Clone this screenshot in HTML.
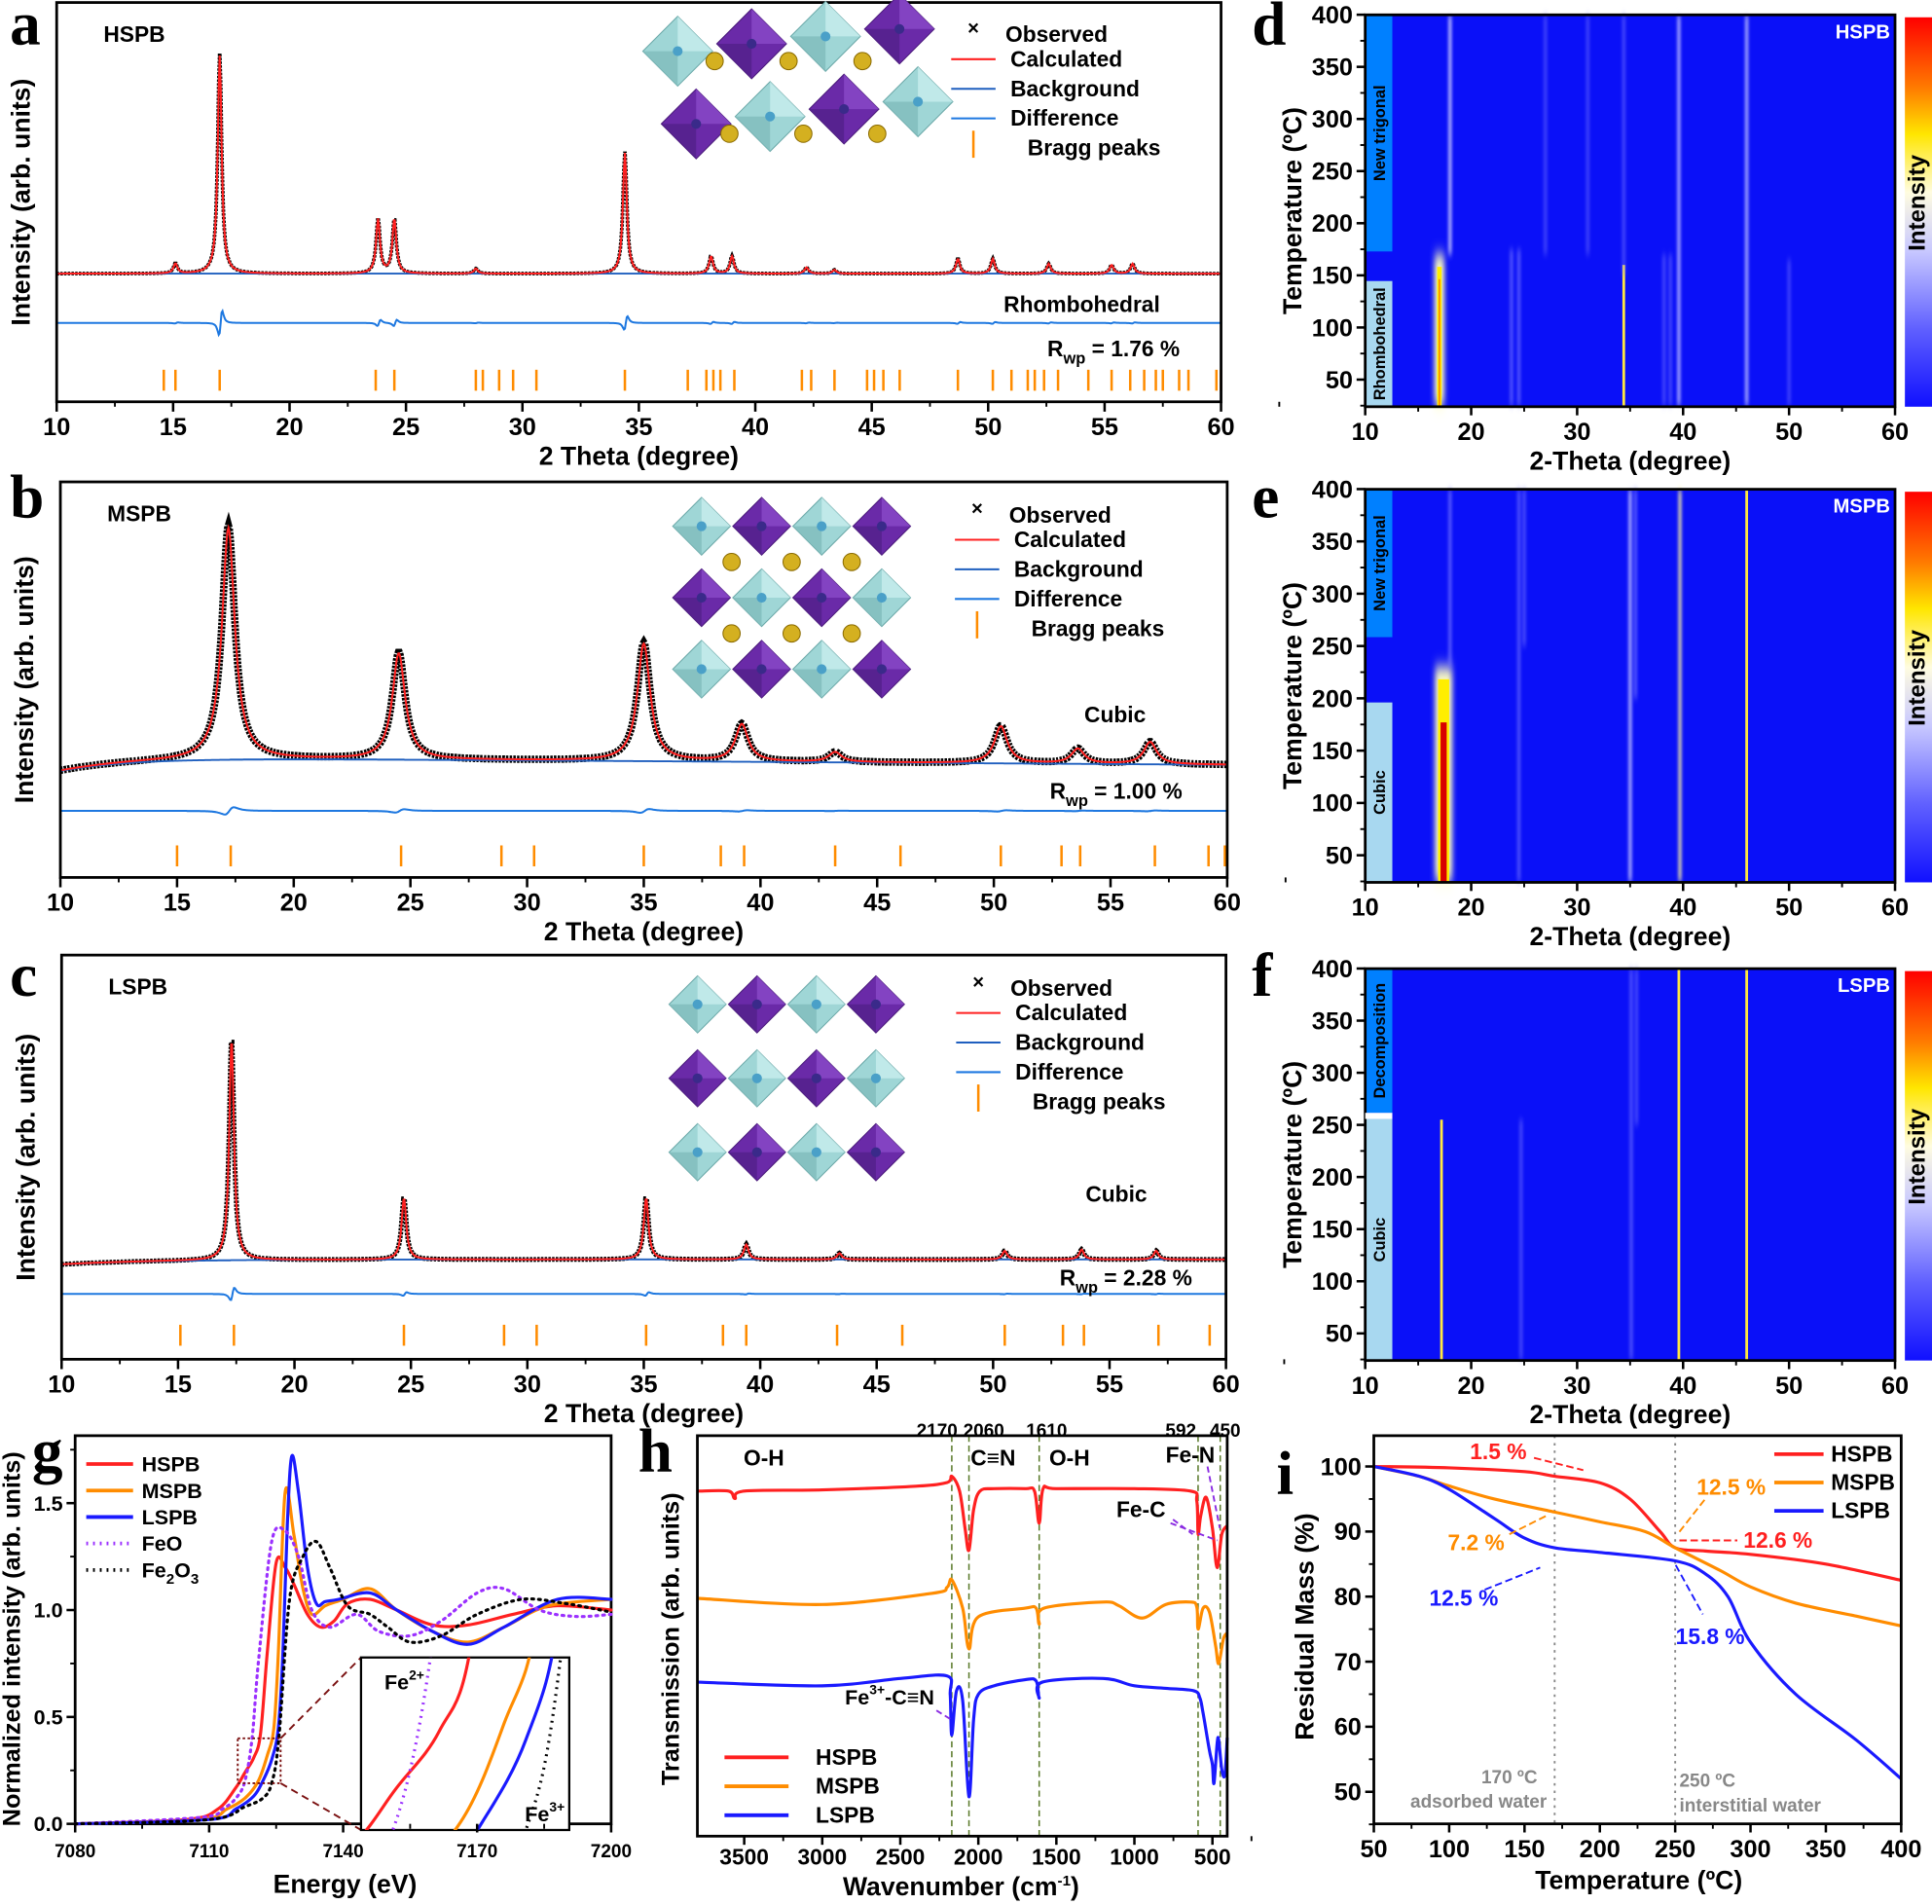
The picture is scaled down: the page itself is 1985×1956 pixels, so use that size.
<!DOCTYPE html>
<html><head><meta charset="utf-8"><style>
html,body{margin:0;padding:0;background:#fff}
svg{display:block;font-family:"Liberation Sans",Arial,sans-serif;font-weight:bold}
</style></head><body>
<svg id="fig" xmlns="http://www.w3.org/2000/svg" width="1985" height="1956" viewBox="0 0 1568 1545">
<defs>
<linearGradient id="cbar" x1="0" y1="0" x2="0" y2="1">
<stop offset="0" stop-color="#ff0000"/><stop offset="0.18" stop-color="#ff7a00"/><stop offset="0.3" stop-color="#ffe600"/><stop offset="0.45" stop-color="#fffce0"/><stop offset="0.6" stop-color="#c8c8ff"/><stop offset="0.8" stop-color="#6060ff"/><stop offset="1" stop-color="#1010ff"/>
</linearGradient>
<filter id="blur1" x="-2" y="-0.1" width="5" height="1.2"><feGaussianBlur stdDeviation="1.2 3"/></filter>
<filter id="blur2" x="-3" y="-0.2" width="7" height="1.4"><feGaussianBlur stdDeviation="2 6"/></filter>
<clipPath id="insClip"><rect x="293" y="1345" width="169" height="140"/></clipPath>
</defs>
</svg>
<script>
// ---------- DATA ----------
// Panel a (HSPB XRD)
const aPeakPos=[15.1,17.0,23.8,24.5,28.0,34.4,38.1,39.0,42.2,43.4,48.7,50.2,52.6,55.3,56.2];
const aPeakH=[8,177,44,44,4,98,14,14,5,3,12,12,8,7,8];
const aBragg=[14.6,15.1,17.0,23.7,24.5,28.0,28.3,29.0,29.6,30.6,34.4,37.1,37.9,38.2,38.5,39.1,42.0,42.4,43.4,44.8,45.1,45.5,46.2,48.7,50.2,51.0,51.7,52.0,52.4,53.0,54.3,55.3,56.1,56.7,57.2,57.5,58.2,58.6,59.8,60.0];
// Panel b (MSPB XRD)
const bPeakPos=[17.2,24.5,35.0,39.2,43.2,50.3,53.6,56.7];
const bPeakH=[188,86,95,30,8,30,12,18];
const bBragg=[15.0,17.3,24.6,28.9,30.3,35.0,38.3,39.3,43.2,46.0,50.3,52.9,53.7,56.9,59.2,59.9];
// Panel c (LSPB XRD)
const cPeakPos=[17.3,24.7,35.1,39.4,43.4,50.5,53.8,57.0];
const cPeakH=[180,50,50,12,5,7,8,7];
const cBragg=[15.1,17.4,24.7,29.0,30.4,35.1,38.4,39.4,43.3,46.1,50.5,53.0,53.9,57.1,59.3];
const xrdTicks=[10,15,20,25,30,35,40,45,50,55,60];
// Heatmaps d,e,f : line position (deg), start T, end T, intensity (0..1)
const dLinePos=[17.0,18.0,23.8,24.5,34.4,34.4,39.6,46.0,27.0,31.0,38.2,38.8,50.0];
const dLineT0=[25,170,25,25,25,150,25,25,170,170,25,25,25];
const dLineT1=[170,400,175,175,160,400,400,400,400,400,170,170,165];
const dLineI=[0.96,0.55,0.35,0.35,0.85,0.2,0.45,0.45,0.15,0.15,0.2,0.2,0.15];
const eLinePos=[17.4,18.0,24.5,35.0,39.7,46.0,35.5,25.0];
const eLineT0=[25,230,25,25,25,25,200,250];
const eLineT1=[230,400,400,400,400,400,400,400];
const eLineI=[1.0,0.4,0.3,0.5,0.75,0.85,0.35,0.25];
const fLinePos=[17.2,24.7,35.1,39.6,46.0,35.6];
const fLineT0=[25,25,25,25,25,250];
const fLineT1=[255,255,400,400,400,400];
const fLineI=[0.82,0.2,0.3,0.85,0.9,0.2];
const hmXTicks=[10,20,30,40,50,60];
const hmYTicks=[50,100,150,200,250,300,350,400];
// Panel g (XANES)
const gHSPB_E=[7080,7105,7112,7116,7118,7120,7121.5,7123,7125,7127,7129,7132,7135,7138,7141,7146,7152,7160,7168,7178,7188,7200];
const gHSPB_I=[0,0.02,0.07,0.17,0.24,0.31,0.42,0.8,1.22,1.2,1.12,0.98,0.92,0.95,1.03,1.05,1.0,0.93,0.93,0.98,1.02,1.0];
const gMSPB_E=[7080,7108,7114,7118,7121,7123,7124.5,7125.5,7127,7129,7131,7133,7136,7140,7146,7152,7160,7168,7176,7186,7200];
const gMSPB_I=[0,0.02,0.07,0.12,0.2,0.32,0.45,0.8,1.55,1.35,1.1,0.98,1.02,1.05,1.1,1.0,0.9,0.85,0.92,1.02,1.05];
const gLSPB_E=[7080,7110,7116,7120,7122,7124,7125.5,7126.5,7127.5,7128.5,7130,7132,7134,7136,7139,7146,7152,7160,7168,7176,7188,7200];
const gLSPB_I=[0,0.02,0.07,0.13,0.2,0.3,0.45,0.8,1.4,1.72,1.55,1.2,1.03,1.04,1.05,1.08,1.0,0.9,0.84,0.92,1.05,1.05];
const gFeO_E=[7080,7108,7113,7116,7118,7119.6,7121,7124,7127,7130,7133,7137,7143,7148,7155,7162,7170,7176,7184,7192,7200];
const gFeO_I=[0,0.03,0.07,0.12,0.2,0.4,0.75,1.32,1.37,1.25,1.0,0.92,0.98,0.9,0.88,0.95,1.08,1.1,1.0,0.97,0.98];
const gFe2O3_E=[7080,7110,7118,7122,7124,7125.6,7128,7131,7134,7137,7141,7146,7150,7155,7162,7170,7180,7190,7200];
const gFe2O3_I=[0,0.02,0.08,0.12,0.19,0.4,1.05,1.25,1.32,1.2,1.02,0.98,0.92,0.85,0.88,0.98,1.05,1.03,0.99];
const gXTicks=[7080,7110,7140,7170,7200];
const gYTicks=[0,0.5,1.0,1.5];
// Panel h (FTIR)
const hHSPB_W=[3797,3600,3560,3500,3000,2400,2200,2170,2120,2085,2060,2030,1990,1900,1700,1640,1610,1585,1500,1000,640,600,592,575,540,500,470,440,405];
const hHSPB_T=[1210,1210,1216,1210,1209,1206,1203,1198,1210,1240,1258,1225,1210,1208,1208,1210,1236,1208,1208,1208,1210,1218,1245,1230,1215,1240,1272,1245,1238];
const hMSPB_W=[3797,3000,2300,2200,2170,2100,2060,2000,1700,1630,1610,1580,1200,1100,950,800,640,600,592,560,520,480,460,430,405];
const hMSPB_T=[1297,1302,1293,1288,1282,1305,1338,1312,1305,1305,1318,1305,1300,1303,1313,1302,1300,1304,1322,1305,1308,1335,1350,1330,1325];
const hLSPB_W=[3797,3000,2500,2200,2180,2170,2140,2100,2060,2030,2000,1900,1700,1630,1610,1590,1200,1000,800,620,580,560,520,500,490,470,460,440,420,405];
const hLSPB_T=[1365,1368,1362,1360,1375,1408,1372,1380,1458,1395,1375,1368,1363,1364,1378,1365,1362,1368,1370,1372,1378,1390,1420,1432,1447,1415,1412,1436,1440,1410];
const hXTicks=[3500,3000,2500,2000,1500,1000,500];
const hMarks=[2170,2060,1610,592,450];
// Panel i (TGA)
const iHSPB_T=[50,100,150,170,200,220,240,250,270,300,350,400];
const iHSPB_M=[100,99.8,99.2,98.5,97.5,95,90,87.5,87,86.5,85,82.5];
const iMSPB_T=[50,80,100,130,170,200,230,250,280,300,330,370,400];
const iMSPB_M=[100,98.5,97,95,93,91.5,90,87.5,84,81.5,79,77,75.5];
const iLSPB_T=[50,80,100,130,150,170,200,250,270,285,300,330,370,400];
const iLSPB_M=[100,98.5,96.5,92,89,87.5,86.8,85.5,83.5,80,73,65,58,52];
const iXTicks=[50,100,150,200,250,300,350,400];
const iYTicks=[50,60,70,80,90,100];

// ---------- HELPERS ----------
const NS="http://www.w3.org/2000/svg";
const svg=document.getElementById('fig');
function mk(tag,a,p){const e=document.createElementNS(NS,tag);for(const k in a)e.setAttribute(k,a[k]);(p||svg).appendChild(e);return e;}
function T(x,y,s,size,o){o=o||{};const e=mk('text',Object.assign({x:x,y:y,'font-size':size,'text-anchor':o.anchor||'middle',fill:o.fill||'#000'},o.extra||{}),o.parent);e.innerHTML=s;return e;}
function smooth(pts){if(pts.length<2)return '';let d='M'+pts[0][0].toFixed(1)+','+pts[0][1].toFixed(1);for(let i=0;i<pts.length-1;i++){const p0=pts[i-1]||pts[i],p1=pts[i],p2=pts[i+1],p3=pts[i+2]||p2;const c1x=p1[0]+(p2[0]-p0[0])/6,c1y=p1[1]+(p2[1]-p0[1])/6,c2x=p2[0]-(p3[0]-p1[0])/6,c2y=p2[1]-(p3[1]-p1[1])/6;d+='C'+c1x.toFixed(1)+','+c1y.toFixed(1)+' '+c2x.toFixed(1)+','+c2y.toFixed(1)+' '+p2[0].toFixed(1)+','+p2[1].toFixed(1);}return d;}
function poly(pts){return 'M'+pts.map(p=>p[0].toFixed(1)+','+p[1].toFixed(1)).join('L');}
function frame(x0,y0,x1,y1,name){const r=mk('rect',{x:x0,y:y0,width:x1-x0,height:y1-y0,fill:'none',stroke:'#000','stroke-width':2.2});return r;}
function letter(s,x,y){const e=T(x,y,s,50,{anchor:'start',extra:{'font-family':'Liberation Serif,serif'}});}

// ---------- XRD PANELS ----------
function xrd(cfg){
  const sx=t=>cfg.x0+(t-10)*(cfg.x1-cfg.x0)/50;
  const peaks=t=>{let s=0;for(let i=0;i<cfg.pos.length;i++){const u=(t-cfg.pos[i])/cfg.w;s+=cfg.h[i]/(1+u*u);}return s;};
  const base=t=>cfg.base(t);
  const g=mk('g',{});
  frame(cfg.x0,cfg.y0,cfg.x1,cfg.y1,cfg.name+'-frame');
  const obs=[],calc=[],bg=[],dif=[];
  for(let t=10;t<=60.001;t+=0.04){const x=sx(t);calc.push([x,base(t)-peaks(t)]);obs.push([x,base(t)-peaks(t)*1.01]);bg.push([x,base(t)]);dif.push([x,cfg.dy+cfg.ds*(peaks(t)-peaks(t-0.08))]);}
  let e=mk('path',{d:poly(obs),fill:'none',stroke:'#000','stroke-width':cfg.obsW,'stroke-dasharray':'2 1'},g);
  e=mk('path',{d:poly(bg),fill:'none',stroke:'#1f5fbf','stroke-width':1.5},g);
  e=mk('path',{d:poly(calc),fill:'none',stroke:'#ff2020','stroke-width':1.6},g);
  e=mk('path',{d:poly(dif),fill:'none',stroke:'#1e78e0','stroke-width':1.6},g);
  cfg.bragg.forEach(b=>{const l=mk('line',{x1:sx(b),x2:sx(b),y1:cfg.by,y2:cfg.by+17,stroke:'#ff8c00','stroke-width':2},g);});
  xrdTicks.forEach(t=>{mk('line',{x1:sx(t),x2:sx(t),y1:cfg.y1,y2:cfg.y1+8,stroke:'#000','stroke-width':2});mk('line',{x1:sx(t+2.5),x2:sx(t+2.5),y1:cfg.y1,y2:cfg.y1+4,stroke:'#000','stroke-width':1.5});
    const l=T(sx(t),cfg.y1+27,t,20);});
  let a=T((cfg.x0+cfg.x1)/2,cfg.y1+51,'2 Theta (degree)',21);
  a=T(0,0,'Intensity (arb. units)',21,{extra:{transform:'translate('+(cfg.x0-22)+','+((cfg.y0+cfg.y1)/2)+') rotate(-90)'}});
  a=T(cfg.x0+38,cfg.y0+32,cfg.name.toUpperCase(),18,{anchor:'start'});
  const lx=cfg.lx,ly=cfg.ly;
  a=T(lx,ly,'×',16);
  mk('line',{x1:lx-18,x2:lx+18,y1:ly+20,y2:ly+20,stroke:'#ff2020','stroke-width':1.6});
  mk('line',{x1:lx-18,x2:lx+18,y1:ly+44,y2:ly+44,stroke:'#1f5fbf','stroke-width':1.6});
  mk('line',{x1:lx-18,x2:lx+18,y1:ly+68,y2:ly+68,stroke:'#1e78e0','stroke-width':1.6});
  mk('line',{x1:lx,x2:lx,y1:ly+78,y2:ly+100,stroke:'#ff8c00','stroke-width':2});
  [['Observed',0,26],['Calculated',20,30],['Background',44,30],['Difference',68,30],['Bragg peaks',92,44]].forEach(r=>{const q=T(lx+r[2],ly+r[1]+6,r[0],18,{anchor:'start'});});
  if(cfg.phase){a=T(cfg.phase[0],cfg.phase[1],cfg.phase[2],18);}
  a=T(cfg.rwp[0],cfg.rwp[1],'R<tspan font-size="13" dy="6">wp</tspan><tspan dy="-6"> = '+cfg.rwp[2]+' %</tspan>',18,{anchor:'start'});
  crystal(cfg.cx,cfg.cy,cfg.cw,cfg.ch,cfg.ctype);
}
function crystal(x0,y0,w,h,type){
  const g=mk('g',{});
  const nx=4,ny=type==='a'?2:3;
  for(let j=0;j<ny;j++)for(let i=0;i<nx;i++){
    const cx=x0+(i+0.5)*w/nx+(type==='a'?j*15:0),cy=y0+(j+0.5)*h/ny-(type==='a'?i*6:0),r=Math.min(w/nx,h/ny)*0.48;
    const purple=(i+j)%2===1;
    const c1=purple?'#6a2aa8':'#9fd6d6',c2=purple?'#8a4ac8':'#c8eded',c3=purple?'#52208a':'#7fbcbc';
    mk('polygon',{points:[cx,cy-r,cx+r,cy,cx,cy+r,cx-r,cy].join(' '),fill:c1,stroke:purple?'#4a1a7a':'#6aa8a8','stroke-width':0.8},g);
    mk('polygon',{points:[cx,cy-r,cx+r,cy,cx,cy].join(' '),fill:c2,opacity:0.8},g);
    mk('polygon',{points:[cx,cy+r,cx-r,cy,cx,cy].join(' '),fill:c3,opacity:0.8},g);
    mk('circle',{cx:cx,cy:cy,r:4,fill:purple?'#3a2a8a':'#4aa0c8'},g);
  }
  if(type!=='c'){for(let j=0;j<ny-1+(type==='a'?1:0);j++)for(let i=0;i<nx-1;i++){const cx=x0+(i+1)*w/nx+(type==='a'?j*12:0),cy=y0+(j+(type==='a'?0.5:1))*h/ny+ (type==='a'?8:0);mk('circle',{cx:cx,cy:cy,r:7,fill:'#d4b020',stroke:'#8a6a00','stroke-width':0.8},g);}}
}
letter('a',8,36);letter('b',8,420);letter('c',8,808);
xrd({name:'hspb',x0:46,x1:991,y0:2,y1:326,pos:aPeakPos,h:aPeakH,w:0.1,bragg:aBragg,by:300,base:t=>222,dy:262,ds:0.12,obsW:3,lx:790,ly:28,rwp:[850,289,'1.76'],phase:[878,253,'Rhombohedral'],cx:520,cy:12,cw:240,ch:118,ctype:'a'});
xrd({name:'mspb',x0:49,x1:996,y0:391,y1:712,pos:bPeakPos,h:bPeakH,w:0.33,bragg:bBragg,by:686,base:t=>617+11*Math.exp(-(t-10)/3)+ (t-30)*0.12,dy:658,ds:0.1,obsW:6,lx:793,ly:418,rwp:[852,648,'1.00'],phase:[905,586,'Cubic'],cx:545,cy:398,cw:195,ch:174,ctype:'b'});
xrd({name:'lspb',x0:50,x1:995,y0:775,y1:1103,pos:cPeakPos,h:cPeakH,w:0.12,bragg:cBragg,by:1075,base:t=>1022+4*Math.exp(-(t-10)/4),dy:1050,ds:0.07,obsW:4,lx:794,ly:802,rwp:[860,1043,'2.28'],phase:[906,975,'Cubic'],cx:542,cy:785,cw:193,ch:180,ctype:'c'});

// ---------- HEATMAPS ----------
function heat(cfg){
  const x0=1108,x1=1538,y0=cfg.y0,y1=cfg.y1;
  const sx=t=>x0+(t-10)*(x1-x0)/50;
  const sy=T_=>cfg.y50-(T_-50)*cfg.k;
  const g=mk('g',{});
  mk('rect',{x:x0,y:y0,width:x1-x0,height:y1-y0,fill:'#0a10f8'},g);
  for(let i=0;i<cfg.pos.length;i++){
    const v=cfg.I[i];const col=v>0.8?'#ffe840':v>0.7?'#fff6a0':v>0.4?'#e0e0ff':'#8080ff';
    const ya=Math.max(y0,sy(cfg.T1[i])),yb=Math.min(y1,sy(cfg.T0[i]));
    const hot=v>0.95&&cfg.pos[i]<18;
    const x=sx(cfg.pos[i]);
    if(hot){
      const gl=mk('rect',{x:x-(cfg.name==='mspb'?7:4),y:ya,width:cfg.name==='mspb'?14:8,height:yb-ya,fill:'#ffffc0',filter:'url(#blur2)'},g);
      const r=mk('rect',{x:x-(cfg.name==='mspb'?4.5:1.8),y:ya+10,width:cfg.name==='mspb'?9:3.6,height:yb-ya-10,fill:'#ffee00'},g);
      const c=mk('rect',{x:x-(cfg.name==='mspb'?2.5:0.7),y:ya+(cfg.name==='mspb'?45:20),width:cfg.name==='mspb'?5:1.4,height:yb-ya-(cfg.name==='mspb'?45:20),fill:cfg.name==='mspb'?'#d80000':'#ff9000'},g);
    } else {
      const w=2.2;
      const r=mk('rect',{x:x-w/2,y:ya,width:w,height:yb-ya,fill:col,opacity:Math.min(1,0.4+v),filter:v<0.8?'url(#blur1)':''},g);
      
    }
  }
  cfg.bands.forEach(b=>{const r=mk('rect',{x:x0,y:b[0],width:22,height:b[1]-b[0],fill:b[2]},g);
    const t=T(0,0,b[3],13,{extra:{transform:'translate('+(x0+16)+','+((b[0]+b[1])/2)+') rotate(-90)'}});});
  frame(x0,y0,x1,y1,cfg.name+'-heatmap-frame');
  hmXTicks.forEach(t=>{mk('line',{x1:sx(t),x2:sx(t),y1:y1,y2:y1+7,stroke:'#000','stroke-width':2});if(t<60)mk('line',{x1:sx(t+5),x2:sx(t+5),y1:y1,y2:y1+4,stroke:'#000','stroke-width':1.5});const l=T(sx(t),y1+27,t,20);});
  hmYTicks.forEach(v=>{mk('line',{x1:x0-7,x2:x0,y1:sy(v),y2:sy(v),stroke:'#000','stroke-width':2});mk('line',{x1:x0-4,x2:x0,y1:sy(v-25),y2:sy(v-25),stroke:'#000','stroke-width':1.5});const l=T(x0-10,sy(v)+7,v,20,{anchor:'end'});});
  let a=T(1323,y1+51,'2-Theta (degree)',21);
  a=T(0,0,'Temperature (ºC)',21,{extra:{transform:'translate(1056,'+((y0+y1)/2)+') rotate(-90)'}});
  a=T(1534,y0+19,cfg.name.toUpperCase(),16,{anchor:'end',fill:'#fff'});
  const cb=mk('rect',{x:1546,y:y0+2,width:22,height:y1-y0-2,fill:'url(#cbar)'});
  a=T(0,0,'Intensity',19,{extra:{transform:'translate(1562,'+(y0+(y1-y0)*0.48)+') rotate(-90)'}});
}
letter('d',1016,36);letter('e',1016,420);letter('f',1016,808);
heat({name:'hspb',y0:12,y1:330,y50:308,k:0.846,pos:dLinePos,T0:dLineT0,T1:dLineT1,I:dLineI,bands:[[12,204,'#0080ff','New trigonal'],[228,330,'#a8d8f0','Rhombohedral']]});
heat({name:'mspb',y0:397,y1:716,y50:694,k:0.849,pos:eLinePos,T0:eLineT0,T1:eLineT1,I:eLineI,bands:[[397,517,'#0080ff','New trigonal'],[570,716,'#a8d8f0','Cubic']]});
heat({name:'lspb',y0:786,y1:1104,y50:1082,k:0.846,pos:fLinePos,T0:fLineT0,T1:fLineT1,I:fLineI,bands:[[786,903,'#0080ff','Decomposition'],[908,1104,'#a8d8f0','Cubic']]});
mk('rect',{x:1108,y:903,width:22,height:5,fill:'#fff'});

// ---------- PANEL g ----------
letter('g',26,1194);
(function(){
  const x0=61,x1=496,y0=1165,y1=1480;
  const sx=e=>x0+(e-7080)*(x1-x0)/120, sy=v=>y1-v*173.5;
  frame(x0,y0,x1,y1,'xanes-frame');
  const ser=[[gHSPB_E,gHSPB_I,'#ff2020',null,'HSPB'],[gMSPB_E,gMSPB_I,'#ff8c00',null,'MSPB'],[gLSPB_E,gLSPB_I,'#1a1aff',null,'LSPB'],[gFeO_E,gFeO_I,'#9b30ff','1.5 4','FeO'],[gFe2O3_E,gFe2O3_I,'#000','1.5 4','Fe<tspan font-size="12" dy="5">2</tspan><tspan dy="-5">O</tspan><tspan font-size="12" dy="5">3</tspan>']];
  ser.forEach((s,k)=>{const p=mk('path',{d:smooth(s[0].map((e,i)=>[sx(e),sy(s[1][i])])),fill:'none',stroke:s[2],'stroke-width':2.5,'stroke-dasharray':s[3]||'none','stroke-linecap':'round'});
    mk('line',{x1:70,x2:108,y1:1188+k*21.5,y2:1188+k*21.5,stroke:s[2],'stroke-width':3,'stroke-dasharray':s[3]||'none'});
    const t=T(115,1194+k*21.5,s[4],17,{anchor:'start'});});
  const zb=[7116.4,7126,0.19,0.4];
  const r=mk('rect',{x:sx(zb[0]),y:sy(zb[3]),width:sx(zb[1])-sx(zb[0]),height:sy(zb[2])-sy(zb[3]),fill:'none',stroke:'#7a1010','stroke-width':1.5,'stroke-dasharray':'2 2'});
  mk('line',{x1:sx(zb[1]),y1:sy(zb[3]),x2:293,y2:1345,stroke:'#7a1010','stroke-width':1.5,'stroke-dasharray':'6 4'});
  mk('line',{x1:sx(zb[1]),y1:sy(zb[2]),x2:293,y2:1485,stroke:'#7a1010','stroke-width':1.5,'stroke-dasharray':'6 4'});
  const ins=mk('rect',{x:293,y:1345,width:169,height:140,fill:'#fff',stroke:'#000','stroke-width':1.8});
  const ix=e=>293+(e-zb[0])*169/(zb[1]-zb[0]), iy=v=>1485-(v-zb[2])*140/(zb[3]-zb[2]);
  const gi=mk('g',{'clip-path':'url(#insClip)'});
  ser.forEach((s,k)=>{const pts=[];for(let i=0;i<s[0].length;i++)pts.push([ix(s[0][i]),iy(s[1][i])]);const p=mk('path',{d:smooth(pts),fill:'none',stroke:s[2],'stroke-width':2.5,'stroke-dasharray':s[3]||'none'},gi);});
  let t=T(312,1371,'Fe<tspan font-size="11" dy="-8">2+</tspan>',17,{anchor:'start'});
  t=T(426,1478,'Fe<tspan font-size="11" dy="-8">3+</tspan>',17,{anchor:'start'});
  gXTicks.forEach(e=>{mk('line',{x1:sx(e),x2:sx(e),y1:y1,y2:y1+7,stroke:'#000','stroke-width':2});if(e<7200)mk('line',{x1:sx(e+15),x2:sx(e+15),y1:y1,y2:y1+4,stroke:'#000','stroke-width':1.5});const l=T(sx(e),y1+27,e,15);});
  gYTicks.forEach(v=>{mk('line',{x1:x0-7,x2:x0,y1:sy(v),y2:sy(v),stroke:'#000','stroke-width':2});mk('line',{x1:x0-4,x2:x0,y1:sy(v+0.25),y2:sy(v+0.25),stroke:'#000','stroke-width':1.5});const l=T(x0-10,sy(v)+6,v.toFixed(1),17,{anchor:'end'});});
  let a=T(280,1536,'Energy (eV)',21);
  a=T(0,0,'Normalized intensity (arb. units)',20,{extra:{transform:'translate(16,1330) rotate(-90)'}});
})();

// ---------- PANEL h ----------
letter('h',518,1194);
(function(){
  const x0=566,x1=996,y0=1165,y1=1490;
  const sx=w=>604+(3500-w)*0.12667;
  hMarks.forEach(w=>{const l=mk('line',{x1:sx(w),x2:sx(w),y1:y0,y2:y1,stroke:'#5a7a2a','stroke-width':1.2,'stroke-dasharray':'5 3'});});
  [[hHSPB_W,hHSPB_T,'#ff2020','HSPB'],[hMSPB_W,hMSPB_T,'#ff8c00','MSPB'],[hLSPB_W,hLSPB_T,'#1a1aff','LSPB']].forEach((s,k)=>{
    const p=mk('path',{d:smooth(s[0].map((w,i)=>[sx(w),s[1][i]])),fill:'none',stroke:s[2],'stroke-width':2.5});
    mk('line',{x1:588,x2:640,y1:1426+k*23.5,y2:1426+k*23.5,stroke:s[2],'stroke-width':3});
    const t=T(662,1432+k*23.5,s[3],18,{anchor:'start'});});
  frame(x0,y0,x1,y1,'ftir-frame');
  const mlab=['2170','2060','1610','592','450'],moff=[-12,12,6,-14,4];
  hMarks.forEach((w,i)=>{const t=T(sx(w)+moff[i],1166,mlab[i],15);});
  [['O-H',620,1189],['C≡N',806,1189],['O-H',868,1189],['Fe-N',966,1187],['Fe-C',926,1231]].forEach(a=>{const t=T(a[1],a[2],a[0],18);});
  let t=T(722,1383,'Fe<tspan font-size="11" dy="-8">3+</tspan><tspan dy="8">-C≡N</tspan>',17);
  mk('line',{x1:760,y1:1388,x2:773,y2:1396,stroke:'#8a2be2','stroke-width':1.5,'stroke-dasharray':'5 3'});
  mk('line',{x1:952,y1:1233,x2:968,y2:1245,stroke:'#8a2be2','stroke-width':1.5,'stroke-dasharray':'5 3'});
  mk('line',{x1:950,y1:1236,x2:988,y2:1250,stroke:'#8a2be2','stroke-width':1.5,'stroke-dasharray':'5 3'});
  mk('line',{x1:980,y1:1190,x2:990,y2:1240,stroke:'#8a2be2','stroke-width':1.5,'stroke-dasharray':'5 3'});
  hXTicks.forEach(w=>{mk('line',{x1:sx(w),x2:sx(w),y1:y1,y2:y1+7,stroke:'#000','stroke-width':2});mk('line',{x1:sx(w-250),x2:sx(w-250),y1:y1,y2:y1+4,stroke:'#000','stroke-width':1.5});const l=T(sx(w),y1+23,w,18);});
  let a=T(780,1538,'Wavenumber (cm<tspan font-size="12" dy="-8">-1</tspan><tspan dy="8">)</tspan>',21);
  a=T(0,0,'Transmission (arb. units)',20,{extra:{transform:'translate(551,1330) rotate(-90)'}});
})();

// ---------- PANEL i ----------
letter('i',1036,1212);
(function(){
  const x0=1115,x1=1543,y0=1165,y1=1480;
  const sx=t=>x0+(t-50)*(x1-x0)/350, sy=v=>1190+(100-v)*5.28;
  [170,250].forEach(t=>{const l=mk('line',{x1:sx(t),x2:sx(t),y1:y0,y2:y1,stroke:'#888','stroke-width':1.5,'stroke-dasharray':'2 4'});});
  [[iHSPB_T,iHSPB_M,'#ff2020','HSPB'],[iMSPB_T,iMSPB_M,'#ff8c00','MSPB'],[iLSPB_T,iLSPB_M,'#1a1aff','LSPB']].forEach((s,k)=>{
    const p=mk('path',{d:smooth(s[0].map((t,i)=>[sx(t),sy(s[1][i])])),fill:'none',stroke:s[2],'stroke-width':2.5});
    mk('line',{x1:1440,x2:1480,y1:1180+k*23,y2:1180+k*23,stroke:s[2],'stroke-width':3});
    const t=T(1486,1186+k*23,s[3],18,{anchor:'start'});});
  frame(x0,y0,x1,y1,'tga-frame');
  [['1.5 %',1216,1184,'#ff2020'],['7.2 %',1198,1258,'#ff8c00'],['12.5 %',1188,1303,'#1a1aff'],['12.5 %',1405,1213,'#ff8c00'],['12.6 %',1443,1256,'#ff2020'],['15.8 %',1388,1334,'#1a1aff']].forEach(a=>{const t=T(a[1],a[2],a[0],18,{fill:a[3]});});
  [[1245,1183,1285,1193,'#ff2020'],[1225,1245,1255,1230,'#ff8c00'],[1205,1290,1250,1272,'#1a1aff'],[1363,1243,1385,1215,'#ff8c00'],[1363,1250,1410,1250,'#ff2020'],[1360,1270,1382,1310,'#1a1aff']].forEach(a=>{mk('line',{x1:a[0],y1:a[1],x2:a[2],y2:a[3],stroke:a[4],'stroke-width':1.5,'stroke-dasharray':'6 3'});});
  let t=T(1225,1447,'170 ºC',15,{fill:'#888'});
  t=T(1200,1467,'adsorbed water',15,{fill:'#888'});
  t=T(1363,1450,'250 ºC',15,{anchor:'start',fill:'#888'});
  t=T(1363,1470,'interstitial water',15,{anchor:'start',fill:'#888'});
  iXTicks.forEach(v=>{mk('line',{x1:sx(v),x2:sx(v),y1:y1,y2:y1+7,stroke:'#000','stroke-width':2});if(v<400)mk('line',{x1:sx(v+25),x2:sx(v+25),y1:y1,y2:y1+4,stroke:'#000','stroke-width':1.5});const l=T(sx(v),y1+27,v,20);});
  iYTicks.forEach(v=>{mk('line',{x1:x0-7,x2:x0,y1:sy(v),y2:sy(v),stroke:'#000','stroke-width':2});mk('line',{x1:x0-4,x2:x0,y1:sy(v-5),y2:sy(v-5),stroke:'#000','stroke-width':1.5});const l=T(x0-10,sy(v)+7,v,20,{anchor:'end'});});
  let a=T(1330,1533,'Temperature (ºC)',21);
  a=T(0,0,'Residual Mass (%)',21,{extra:{transform:'translate(1066,1320) rotate(-90)'}});
})();
</script>
</body></html>
